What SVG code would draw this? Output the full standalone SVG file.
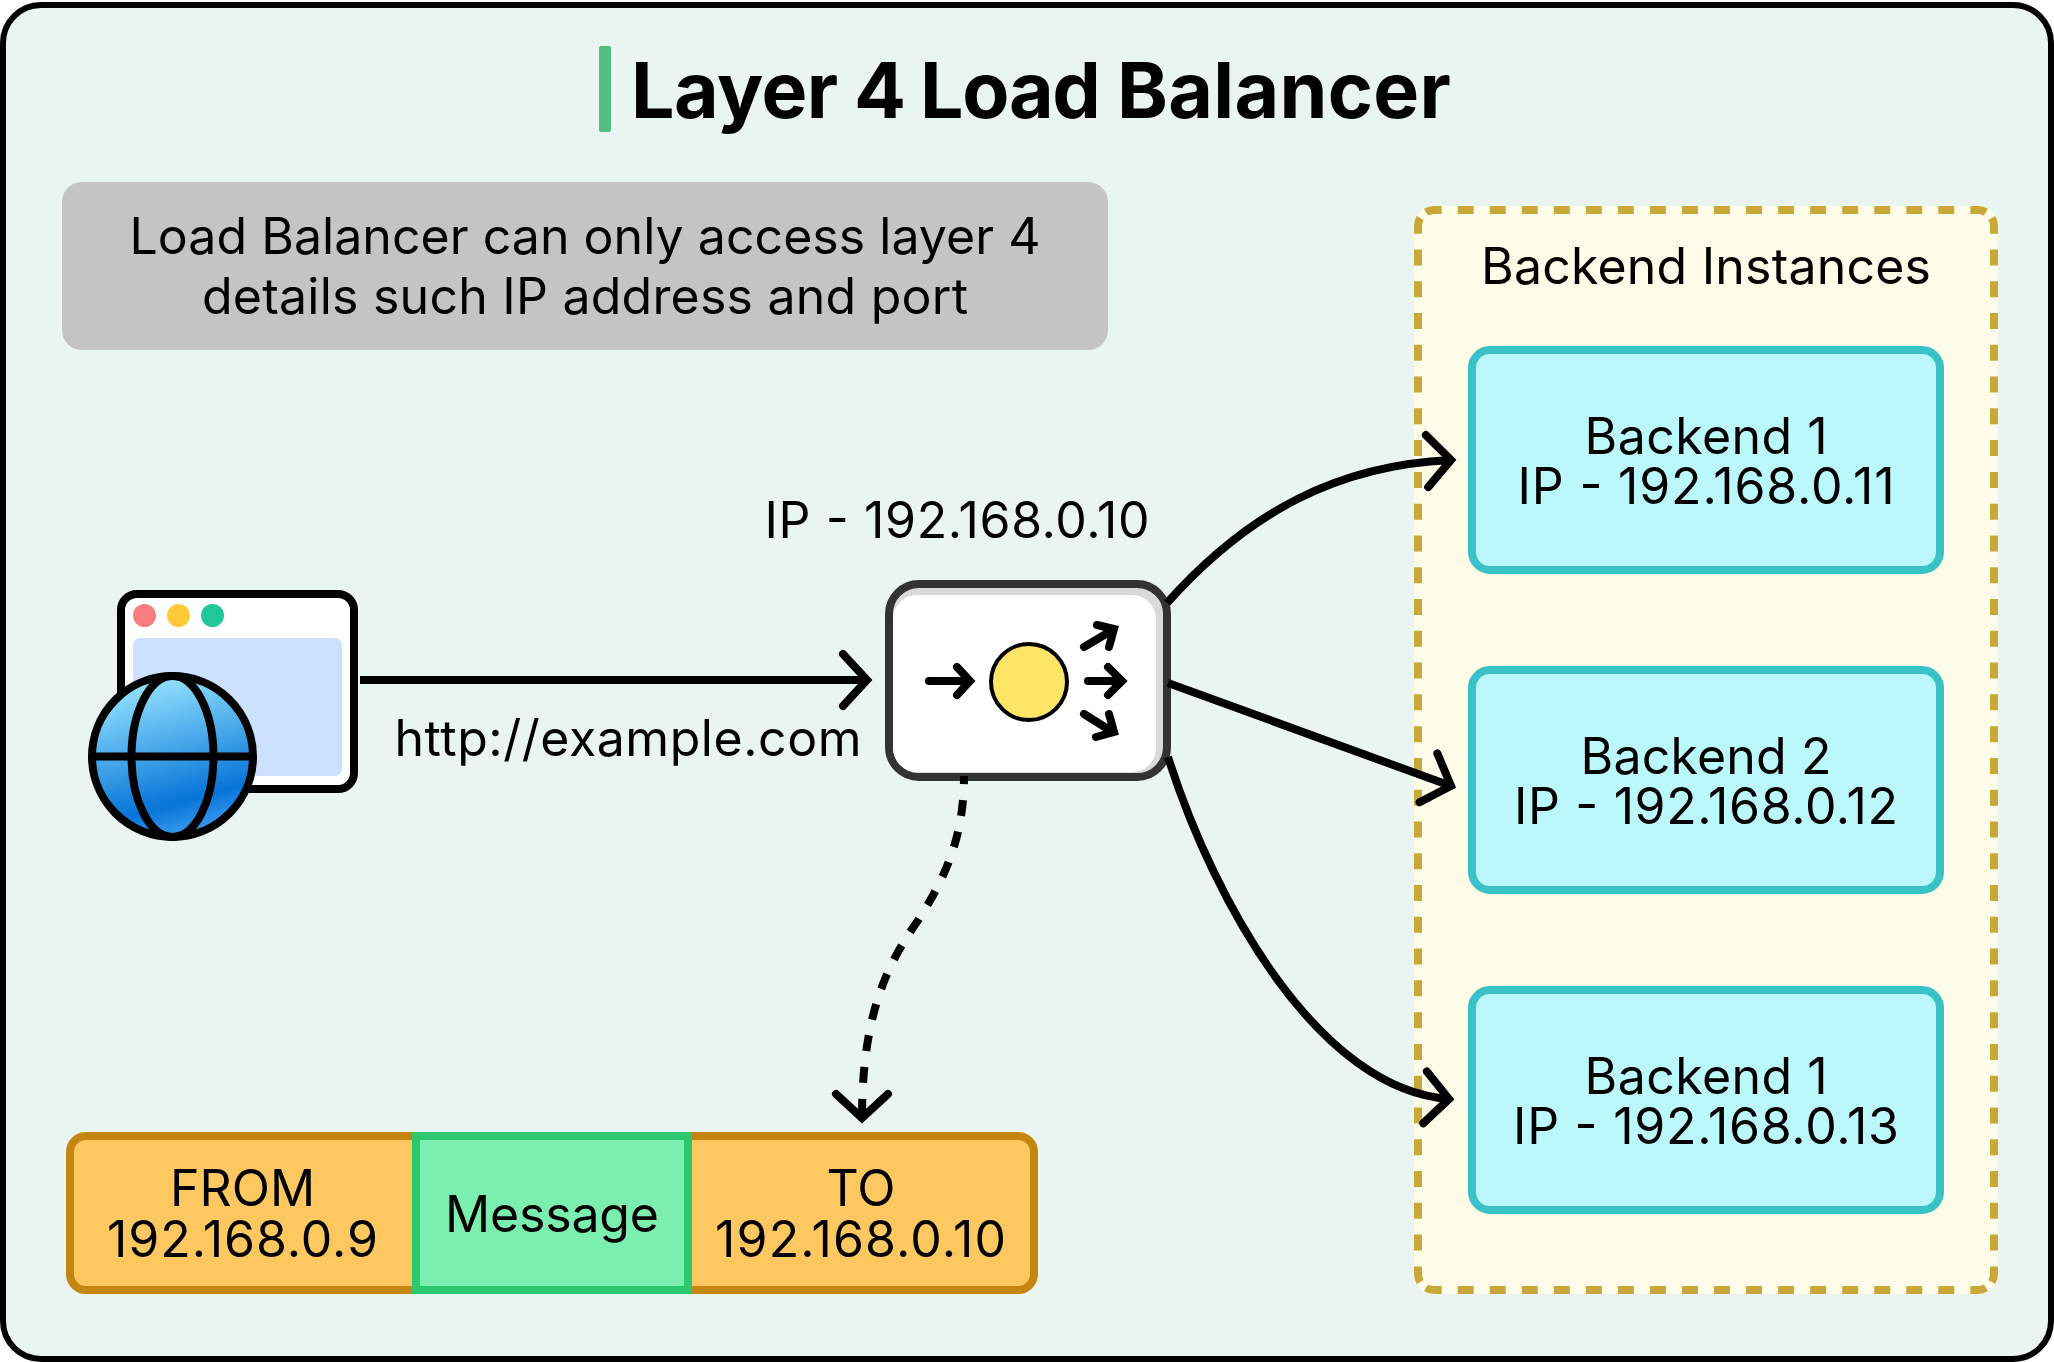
<svg xmlns="http://www.w3.org/2000/svg" width="2054" height="1362" viewBox="0 0 2054 1362">
<style>
text{font-family:Inter,"Liberation Sans",sans-serif;fill:#000;font-size:50px;text-anchor:middle}
.title{font-weight:700;font-size:77px;text-anchor:start}
.backend{fill:#bbf8fb;stroke:#3bc1c8;stroke-width:8}
.dash{fill:none;stroke:#c8a838;stroke-width:8}
.conn{fill:none;stroke:#000;stroke-width:8}
.icon{fill:none;stroke:#000;stroke-width:8;stroke-linecap:round;stroke-linejoin:miter}
</style>
<defs>
<marker id="arrow" markerUnits="userSpaceOnUse" markerWidth="80" markerHeight="80" refX="40" refY="40" orient="auto" overflow="visible">
<path d="M16 14 L40 40 L16 66" fill="none" stroke="#000" stroke-width="8" stroke-linecap="round"/>
</marker>
<linearGradient id="globe" x1="0.35" y1="0" x2="0.62" y2="1">
<stop offset="0" stop-color="#99e6ff"/>
<stop offset="0.78" stop-color="#0675d8"/>
<stop offset="1" stop-color="#42a0f0"/>
</linearGradient>
</defs>
<rect id="background" x="3" y="5" width="2048" height="1354" rx="38" fill="#eaf4f0" stroke="#000" stroke-width="6"/>
<g id="title">
<rect x="599" y="46" width="12" height="86" rx="2" fill="#52bd82"/>
<text class="title" y="118"><tspan x="631" letter-spacing="-0.5">Layer </tspan><tspan x="854">4 </tspan><tspan x="920" letter-spacing="-1.3">Load </tspan><tspan x="1117" letter-spacing="0.3">Balancer</tspan></text>
</g>
<g id="note">
<rect x="62" y="182" width="1046" height="168" rx="20" fill="#c4c4c4"/>
<text x="585" y="254" textLength="911">Load Balancer can only access layer 4</text>
<text x="585" y="314" textLength="766">details such IP address and port</text>
</g>
<g id="backend-instances">
<rect x="1414" y="206" width="584" height="1088" rx="20" fill="#fdfce9"/>
<path class="dash" stroke-dasharray="16 16.04" d="M1426 212.140A16 16 0 0 1 1434 210H1978A16 16 0 0 1 1986 212.140"/>
<path class="dash" stroke-dasharray="16 16.04" d="M1426 1287.860A16 16 0 0 0 1434 1290H1978A16 16 0 0 0 1986 1287.860"/>
<path class="dash" stroke-dasharray="16 15.78" d="M1420.140 218A16 16 0 0 0 1418 226V1274A16 16 0 0 0 1420.140 1282"/>
<path class="dash" stroke-dasharray="16 15.78" d="M1991.860 218A16 16 0 0 1 1994 226V1274A16 16 0 0 1 1991.860 1282"/>
<text x="1706" y="284" textLength="450">Backend Instances</text>
</g>
<g id="backend-1">
<rect class="backend" x="1472" y="350" width="468" height="220" rx="18"/>
<text x="1706" y="454" textLength="243">Backend 1</text>
<text x="1706" y="504" textLength="377">IP - 192.168.0.11</text>
</g>
<g id="backend-2">
<rect class="backend" x="1472" y="670" width="468" height="220" rx="18"/>
<text x="1706" y="774" textLength="251">Backend 2</text>
<text x="1706" y="824" textLength="384">IP - 192.168.0.12</text>
</g>
<g id="backend-3">
<rect class="backend" x="1472" y="990" width="468" height="220" rx="18"/>
<text x="1706" y="1094" textLength="243">Backend 1</text>
<text x="1706" y="1144" textLength="386">IP - 192.168.0.13</text>
</g>
<g id="client">
<rect x="121" y="594" width="233" height="195" rx="16" fill="#fff" stroke="#000" stroke-width="8"/>
<rect x="133" y="638" width="209" height="138" rx="7" fill="#cde0fe"/>
<circle cx="144.500" cy="615.500" r="11.500" fill="#fb7c7f"/>
<circle cx="178.500" cy="615.500" r="11.500" fill="#ffc93a"/>
<circle cx="212.500" cy="615.500" r="11.500" fill="#22c69b"/>
<circle cx="172.500" cy="756.500" r="80.500" fill="url(#globe)" stroke="#000" stroke-width="8"/>
<ellipse cx="172.500" cy="756.500" rx="41" ry="80.500" fill="none" stroke="#000" stroke-width="8"/>
<line x1="92" y1="756.500" x2="253" y2="756.500" stroke="#000" stroke-width="8"/>
</g>
<text id="client-label" x="628" y="756" textLength="467">http://example.com</text>
<g id="load-balancer">
<rect x="889" y="584" width="278" height="193" rx="30" fill="#d9d9d9" stroke="#333" stroke-width="8"/>
<rect x="893" y="595" width="263" height="177" rx="24" fill="#fff"/>
<circle cx="1029" cy="682" r="38" fill="#ffe566" stroke="#000" stroke-width="4"/>
<path class="icon" d="M929 681H969M957 667L970 681L957 695"/>
<path class="icon" d="M1088 681H1120M1108 667L1122 681L1108 695"/>
<path class="icon" d="M1084 647L1111 631M1097 625L1114 629L1109 647"/>
<path class="icon" d="M1084 714L1111 731M1109 714L1114 732L1096 737"/>
<text x="957" y="538" textLength="385">IP - 192.168.0.10</text>
</g>
<g id="packet">
<rect x="70" y="1136" width="964" height="154" rx="16" fill="#ffc75f" stroke="#c58512" stroke-width="8"/>
<rect x="416" y="1136" width="272" height="154" fill="#7befaf" stroke="#2cc76e" stroke-width="8"/>
<text x="242.500" y="1206">FROM</text>
<text x="242.500" y="1257" textLength="271">192.168.0.9</text>
<text x="552" y="1232" textLength="214">Message</text>
<text x="861" y="1206">TO</text>
<text x="860.500" y="1257" textLength="291">192.168.0.10</text>
</g>
<g id="connectors">
<path class="conn" marker-end="url(#arrow)" d="M360 680H867"/>
<path class="conn" marker-end="url(#arrow)" d="M1167 603C1250 510 1340 465 1451 460"/>
<path class="conn" marker-end="url(#arrow)" d="M1168 683L1451 786"/>
<path class="conn" marker-end="url(#arrow)" d="M1168 757C1215 905 1320 1090 1449 1099"/>
<path class="conn" marker-end="url(#arrow)" stroke-dasharray="16 16" stroke-dashoffset="8" d="M964 776C964 830 950 870 919 919C890 960 862 1010 862 1118"/>
</g>
</svg>
